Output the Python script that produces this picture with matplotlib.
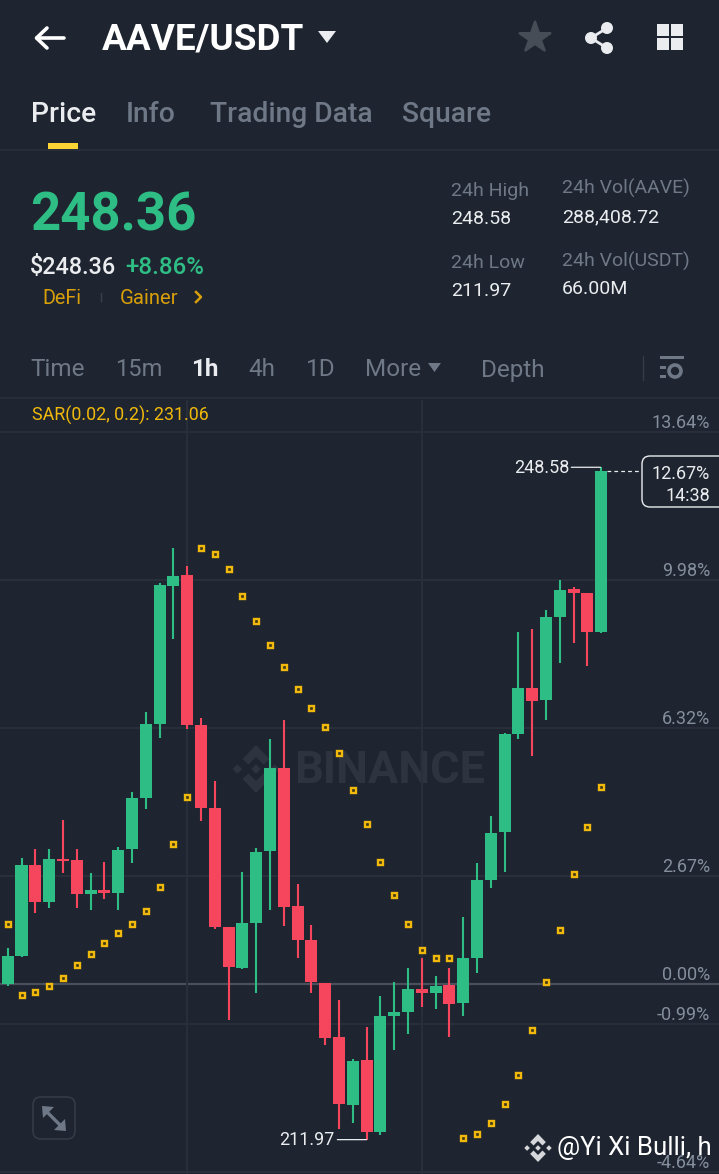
import matplotlib
matplotlib.use("Agg")
import matplotlib.pyplot as plt
from matplotlib.patches import FancyBboxPatch, Polygon, Circle, Rectangle
import numpy as np

plt.rcParams['font.family'] = ['Roboto', 'DejaVu Sans']

# candle values, percent change from the 0.00% line
opens = [0.00, 0.70, 2.94, 2.02, 3.09, 3.06, 2.23, 2.32, 2.25, 3.34, 4.59, 6.43, 9.84, 10.11, 6.40, 4.35,
         1.41, 0.41, 1.50, 3.29, 5.34, 1.93, 1.09, 0.04, -1.30, -2.98, -1.88, -3.64, -0.79, -0.68, -0.13, -0.22,
         -0.02, -0.47, 0.65, 2.57, 3.75, 6.17, 7.32, 7.01, 9.08, 9.76, 9.67, 8.70]
closes = [0.70, 2.94, 2.03, 3.09, 3.04, 2.22, 2.33, 2.26, 3.32, 4.59, 6.43, 9.86, 10.09, 6.40, 4.35, 1.41,
          0.42, 1.50, 3.27, 5.34, 1.91, 1.10, 0.05, -1.33, -2.97, -1.90, -3.65, -0.79, -0.69, -0.12, -0.22, -0.04,
          -0.49, 0.65, 2.57, 3.74, 6.17, 7.31, 7.00, 9.08, 9.74, 9.67, 8.70, 12.67]
highs = [0.90, 3.11, 3.33, 3.33, 4.06, 3.33, 2.74, 3.01, 3.39, 4.75, 6.73, 9.91, 10.77, 10.32, 6.58, 5.02,
         1.41, 2.76, 3.36, 6.06, 6.53, 2.47, 1.46, 0.04, -0.40, -1.86, -1.06, -0.29, 0.06, 0.39, 0.65, 0.20,
         0.39, 1.66, 2.99, 4.16, 6.20, 8.71, 8.77, 9.24, 9.99, 9.82, 9.67, 12.77]
lows = [-0.04, 0.68, 1.77, 1.89, 2.75, 1.87, 1.84, 2.11, 1.83, 2.99, 4.33, 6.08, 8.53, 6.30, 4.04, 1.37,
        -0.88, 0.38, -0.22, 1.84, 1.44, 0.64, -0.22, -1.50, -3.57, -3.42, -3.84, -3.73, -1.63, -1.23, -0.56, -0.61,
        -1.30, -0.79, 0.27, 2.38, 2.77, 6.05, 5.64, 6.53, 7.93, 8.42, 7.87, 8.68]
sar = [1.49, -0.26, -0.19, -0.05, 0.15, 0.47, 0.75, 1.02, 1.26, 1.49, 1.81, 2.40, 3.46, 4.62, 10.77, 10.63,
       10.26, 9.60, 8.97, 8.38, 7.83, 7.30, 6.82, 6.35, 5.72, 4.80, 3.96, 3.03, 2.20, 1.49, 0.84, 0.65,
       0.65, -3.81, -3.69, -3.43, -2.97, -2.24, -1.14, 0.05, 1.33, 2.72, 3.88, 4.86]
pct_ticks = [13.64, 9.98, 6.32, 2.67, 0.00, -0.99, -4.64]
pct_labels = ['13.64%', '9.98%', '6.32%', '2.67%', '0.00%', '-0.99%', '-4.64%']
time_lines = [13, 30]
high_pct, high_label = 12.77, '248.58'
low_pct, low_label = -3.84, '211.97'
last_pct, last_label = 12.67, '12.67%'

BG = '#1E2530'
GRID = '#2A303B'
GREEN = '#2EBD85'
RED = '#F6465D'
YELLOW = '#F0B90B'
GRAY = '#848E9C'
DIM = '#6F7887'
WHITE = '#EAECEF'

W, H = 719, 1174
fig = plt.figure(figsize=(W / 100, H / 100), dpi=100, facecolor=BG)

# chart area, pixel row 400 to the bottom edge
ax = fig.add_axes([0, 0, 1, (H - 400) / H], facecolor='none')
ax.set_xlim(-0.558, 51.54)
ax.set_ylim(-4.689, 14.432)
ax.axis('off')

# page chrome, in pixels
ui = fig.add_axes([0, 0, 1, 1], facecolor='none', zorder=-1)
ui.set_xlim(0, W)
ui.set_ylim(H, 0)
ui.axis('off')
top = fig.add_axes([0, 0, 1, 1], facecolor='none', zorder=5)
top.set_xlim(0, W)
top.set_ylim(H, 0)
top.axis('off')


def label(a, x, y, s, size, color, weight='normal', ha='left'):
    return a.text(x, y + 2, s, fontsize=size, color=color, fontweight=weight, ha=ha, va='center')


def binance_logo(a, cx, cy, r, color, alpha=1.0):
    # small diamond in the middle and the four chevrons round it
    d = r * 0.2
    for (x, y) in [(0, 0), (-r * 0.78, 0), (r * 0.78, 0)]:
        a.add_patch(Polygon([(cx + x - d, cy), (cx + x, cy - d), (cx + x + d, cy), (cx + x, cy + d)],
                            color=color, alpha=alpha, lw=0))
    for s in (-1, 1):
        pts = [(cx - r * 0.56, cy + s * r * 0.42), (cx, cy + s * r), (cx + r * 0.56, cy + s * r * 0.42),
               (cx + r * 0.32, cy + s * r * 0.18), (cx, cy + s * r * 0.5), (cx - r * 0.32, cy + s * r * 0.18)]
        a.add_patch(Polygon(pts, color=color, alpha=alpha, lw=0))


# header
ui.plot([37, 64], [38, 38], color='white', lw=2.6, solid_capstyle='round')
ui.plot([47, 36.5, 47], [28, 38, 48], color='white', lw=2.6, solid_capstyle='round', solid_joinstyle='round')
label(ui, 102, 38, 'AAVE/USDT', 26.6, 'white', 'bold')
ui.add_patch(Polygon([(318, 31), (336, 31), (327, 43)], color=WHITE, lw=0))
ui.plot([535], [38], marker='*', ms=24, color='#474D57', mew=1.5, mec='#474D57')
for (x, y) in [(591, 38), (607, 28), (607, 48)]:
    ui.add_patch(Circle((x, y), 6, color=WHITE, lw=0))
    ui.plot([591, x], [38, y], color=WHITE, lw=2)
for x in (657, 671):
    for y in (24, 38):
        ui.add_patch(Rectangle((x, y), 12, 12, color=WHITE, lw=0))

# tabs
label(ui, 31, 112, 'Price', 20.3, WHITE, 'medium')
label(ui, 126, 112, 'Info', 20.3, DIM, 'medium')
label(ui, 210, 112, 'Trading Data', 20.3, DIM, 'medium')
label(ui, 402, 112, 'Square', 20.3, DIM, 'medium')
ui.add_patch(Rectangle((48, 143), 30, 6, color='#FCD535', lw=0))
ui.plot([0, W], [150, 150], color=GRID, lw=1.2)

# price block
label(ui, 30, 214, '248.36', 38, GREEN, 'bold')
label(ui, 30, 265, '$248.36', 16.8, WHITE, 'medium')
label(ui, 125, 265, '+8.86%', 17.3, GREEN, 'medium')
label(ui, 42, 296, 'DeFi', 14.2, '#D89F0A')
ui.plot([101, 101], [293, 301], color='#3A404B', lw=1)
label(ui, 120, 296, 'Gainer', 14.6, '#D89F0A')
ui.plot([196, 201, 196], [292, 297, 302], color='#D89F0A', lw=1.8)
label(ui, 451, 189, '24h High', 14, DIM)
label(ui, 451, 217, '248.58', 14, WHITE)
label(ui, 451, 261, '24h Low', 14, DIM)
label(ui, 451, 289, '211.97', 14, WHITE)
label(ui, 562, 186, '24h Vol(AAVE)', 14, DIM)
label(ui, 562, 215, '288,408.72', 14, WHITE)
label(ui, 562, 259, '24h Vol(USDT)', 14, DIM)
label(ui, 562, 287, '66.00M', 14, WHITE)

# interval row
for x, s, sz in [(30, 'Time', 17.5), (115, '15m', 17), (248, '4h', 17.5), (306, '1D', 17.5), (365, 'More', 17.5),
                 (481, 'Depth', 17.5)]:
    label(ui, x, 368, s, sz, DIM)
label(ui, 191, 368, '1h', 17.5, WHITE, 'bold')
ui.add_patch(Polygon([(428, 363), (441, 363), (434.5, 372)], color=DIM, lw=0))
ui.plot([643, 643], [356, 380], color='#363C47', lw=1)
ui.add_patch(Rectangle((660, 356), 24, 3, color=DIM, lw=0))
ui.add_patch(Rectangle((660, 366), 6, 3, color=DIM, lw=0))
ui.add_patch(Rectangle((660, 375), 6, 3, color=DIM, lw=0))
ui.add_patch(Circle((675, 371), 6, fill=False, ec=DIM, lw=2.6))
ui.plot([0, W], [398, 398], color=GRID, lw=1.2)

# watermark
binance_logo(ui, 256, 769, 24, '#2D3440')
label(ui, 294, 769, 'BINANCE', 32.5, '#2D3440', 'bold')

# grid
for v in pct_ticks:
    if v == 0:
        ax.axhline(v, color='#4A505B', lw=1.6, zorder=1)
    else:
        ax.axhline(v, color=GRID, lw=1.4, zorder=1)
for t in time_lines:
    ax.axvline(t, color=GRID, lw=1.4, zorder=1)
for v, s in zip(pct_ticks, pct_labels):
    ax.annotate(s, (1, v), xycoords=('axes fraction', 'data'), xytext=(-6.5, 6.6), textcoords='offset points',
                ha='right', va='center', fontsize=13, color=GRAY, zorder=2)

# candles
idx = np.arange(len(opens))
o = np.array(opens)
c = np.array(closes)
colors = [GREEN if b >= a else RED for a, b in zip(opens, closes)]
ax.vlines(idx, lows, highs, colors=colors, lw=1.5, zorder=3)
ax.bar(idx, np.abs(c - o), bottom=np.minimum(o, c), width=0.87, color=colors, lw=0, zorder=4)

# SAR dots
ax.plot(idx, sar, ls='none', marker='s', ms=3.6, mfc='#3A3215', mec=YELLOW, mew=1.7, zorder=5)

# high, low and last price marks
hi_i = int(np.argmax(highs))
lo_i = int(np.argmin(lows))
ax.annotate(high_label, (hi_i, high_pct), xytext=(-23, -0.5), textcoords='offset points', ha='right', va='center',
            fontsize=13, color=WHITE, zorder=6)
ax.annotate('', (hi_i - 0.05, high_pct), xytext=(-21, 0), textcoords='offset points',
            arrowprops=dict(arrowstyle='-', color=WHITE, lw=0.9, shrinkA=0, shrinkB=0), zorder=6)
ax.annotate(low_label, (lo_i, low_pct), xytext=(-23, -0.5), textcoords='offset points', ha='right', va='center',
            fontsize=13, color=WHITE, zorder=6)
ax.annotate('', (lo_i, low_pct), xytext=(-21, 0), textcoords='offset points',
            arrowprops=dict(arrowstyle='-', color=WHITE, lw=0.9, shrinkA=0, shrinkB=0), zorder=6)
ax.plot([len(opens) - 0.55, 46.0], [last_pct, last_pct], color=WHITE, lw=0.9, ls=(0, (3, 2.5)), zorder=3)

top.add_patch(FancyBboxPatch((642, 456), 90, 51, boxstyle='round,pad=0,rounding_size=8', fc=BG, ec=WHITE, lw=1))
label(top, 710, 472, last_label, 13, WHITE, ha='right')
label(top, 710, 494, '14:38', 13, WHITE, ha='right')
label(top, 32, 413, 'SAR(0.02, 0.2): 231.06', 12.9, YELLOW)

# expand button
top.add_patch(FancyBboxPatch((33, 1097), 42, 42, boxstyle='round,pad=0,rounding_size=8', fc='none',
                             ec='#343A46', lw=1.2))
top.plot([46, 62], [1111, 1127], color=DIM, lw=2.4)
top.add_patch(Polygon([(42, 1106), (54, 1107), (43, 1118)], color=DIM, lw=0))
top.add_patch(Polygon([(66, 1131), (54, 1130), (65, 1119)], color=DIM, lw=0))

# repost mark over the bottom right corner
binance_logo(top, 538, 1148, 14, '#D5D7DA')
label(top, 557, 1146, '@Yi Xi Bulli, h', 18.5, 'white')

fig.savefig('out.png', dpi=100, facecolor=BG)
